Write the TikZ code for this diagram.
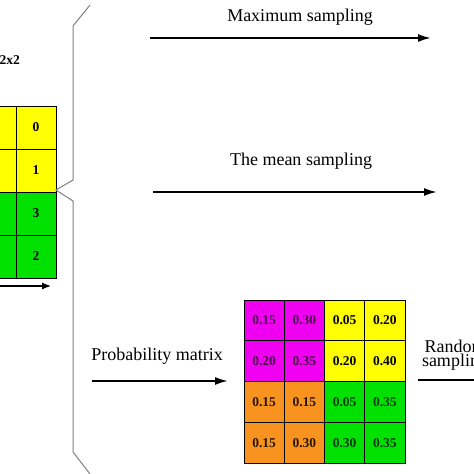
\documentclass[tikz,border=0pt]{standalone}
\usepackage{fontspec}
\setmainfont{Liberation Serif}
\usetikzlibrary{arrows.meta}
\definecolor{cyel}{HTML}{FFFF00}
\definecolor{cgrn}{HTML}{00E100}
\definecolor{cmag}{HTML}{F000F0}
\definecolor{cora}{HTML}{F7931E}
\definecolor{tmag}{HTML}{4A0A4A}
\definecolor{tgrn}{HTML}{0A3A0A}
\definecolor{tora}{HTML}{2A1400}
\tikzset{
  cellL/.style={draw=black, line width=0.8pt, minimum width=40pt, minimum height=43pt, inner sep=0pt, outer sep=0pt, font=\fontsize{13.5}{15}\selectfont\bfseries},
  cellR/.style={draw=black, line width=0.8pt, minimum width=40.25pt, minimum height=40.75pt, inner sep=0pt, outer sep=0pt, font=\fontsize{13.5}{15}\selectfont\bfseries},
  lbl/.style={font=\fontsize{18}{14}\selectfont, inner sep=0pt, anchor=base},
  bigarrow/.style={line width=2pt, -{Latex[length=13pt,width=8pt]}},
  smallarrow/.style={line width=1.2pt, -{Latex[length=9pt,width=7pt]}},
  bracelines/.style={draw=gray, line width=1pt}
}
\begin{document}
\begin{tikzpicture}[x=1pt,y=-1pt]
\useasboundingbox (0,0) rectangle (474,474);
\clip (0,0) rectangle (474,474);
\fill[white] (0,0) rectangle (474,474);

% left matrix
\node[lbl, anchor=base east, font=\fontsize{13.5}{15}\selectfont\bfseries] (sz) at (20,64) {2x2};
\node[cellL, fill=cyel] (l11) at (-4,127.5) {};
\node[cellL, fill=cyel] (l12) at (36,127.5) {0};
\node[cellL, fill=cyel] (l21) at (-4,170.5) {};
\node[cellL, fill=cyel] (l22) at (36,170.5) {1};
\node[cellL, fill=cgrn] (l31) at (-4,213.5) {};
\node[cellL, fill=cgrn] (l32) at (36,213.5) {3};
\node[cellL, fill=cgrn] (l41) at (-4,256.5) {};
\node[cellL, fill=cgrn] (l42) at (36,256.5) {2};
\coordinate (sa0) at (-10,286);
\coordinate (sa1) at (51,286);
\draw[smallarrow] (sa0) -- (sa1);

% brace
\draw[bracelines] (90,5) -- (73,26) -- (73,180) -- (56,190) -- (73,201) -- (73,452) -- (90,474);

% maximum sampling
\coordinate (mx0) at (150,38);
\coordinate (mx1) at (431,38);
\draw[bigarrow] (mx0) -- (mx1);
\node[lbl] (mxl) at (300,21) {Maximum sampling};

% mean sampling
\coordinate (mn0) at (153,192);
\coordinate (mn1) at (437,192);
\draw[bigarrow] (mn0) -- (mn1);
\node[lbl] (mnl) at (301,165) {The mean sampling};

% probability matrix
\coordinate (pm0) at (92,381);
\coordinate (pm1) at (228,381);
\draw[bigarrow] (pm0) -- (pm1);
\node[lbl] (pml) at (157,360) {Probability matrix};

% right matrix
\foreach \r/\a/\b/\c/\d in {1/0.15/0.30/0.05/0.20, 2/0.20/0.35/0.20/0.40, 3/0.15/0.15/0.05/0.35, 4/0.15/0.30/0.30/0.35}{
  \pgfmathsetmacro{\yy}{300+40.75*(\r-0.5)}
  \ifnum\r<3
    \node[cellR, fill=cmag, text=tmag] (m\r1) at (264.125,\yy) {\a};
    \node[cellR, fill=cmag, text=tmag] (m\r2) at (304.375,\yy) {\b};
    \node[cellR, fill=cyel, text=black] (m\r3) at (344.625,\yy) {\c};
    \node[cellR, fill=cyel, text=black] (m\r4) at (384.875,\yy) {\d};
  \else
    \node[cellR, fill=cora, text=tora] (m\r1) at (264.125,\yy) {\a};
    \node[cellR, fill=cora, text=tora] (m\r2) at (304.375,\yy) {\b};
    \node[cellR, fill=cgrn, text=tgrn] (m\r3) at (344.625,\yy) {\c};
    \node[cellR, fill=cgrn, text=tgrn] (m\r4) at (384.875,\yy) {\d};
  \fi
}
\draw[line width=1pt] (m11.north west) rectangle (m44.south east);

% random sampling
\node[lbl] (rsl1) at (455,352) {Random};
\node[lbl] (rsl2) at (455,366) {sampling};
\coordinate (rs0) at (418,380);
\coordinate (rs1) at (520,380);
\draw[bigarrow] (rs0) -- (rs1);
\end{tikzpicture}
\end{document}
